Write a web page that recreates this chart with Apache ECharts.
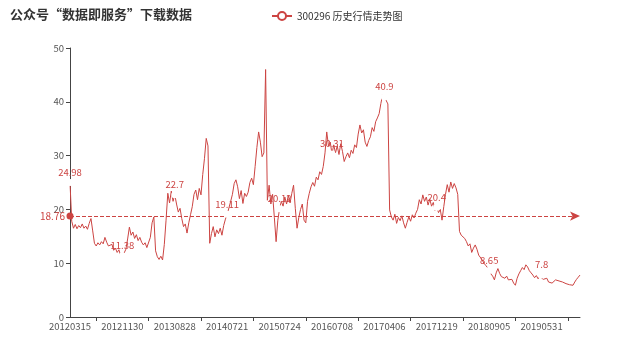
<!DOCTYPE html>
<html>
<head>
<meta charset="utf-8">
<script src="https://cdn.jsdelivr.net/npm/echarts@6/dist/echarts.min.js"></script>
<style>html,body{margin:0;padding:0;background:#fff;}#main{width:640px;height:363px;}</style>
</head>
<body>
<div id="main"></div>
<script>
// Labelled dates on the x axis (every labelStep-th category)
const tickLabels = ['20120315','20121130','20130828','20140721','20150724','20160708','20170406','20171219','20180905','20190531'];
const labelStep = 30;
const seriesName = '300296 历史行情走势图';
const titleText = '公众号“数据即服务”下载数据';
const avgValue = 18.76;
// Closing prices
const prices = [
24.98,17.8,16.5,17.2,16.4,17.0,16.6,17.3,16.5,16.9,
16.3,17.4,18.3,16.0,13.7,13.2,13.8,13.4,14.0,13.6,
14.8,13.9,13.2,12.9,13.5,12.4,12.8,12.0,12.5,11.4,
11.38,11.9,12.6,14.5,16.7,15.2,15.8,14.6,15.3,14.2,
14.8,13.9,13.4,13.8,12.9,12.7,14.8,17.5,18.6,12.3,
11.2,10.7,11.3,10.6,13.5,18.0,23.0,21.2,23.4,21.5,
22.7,21.0,19.5,20.2,18.3,16.8,17.3,15.6,17.5,19.0,
20.5,22.8,23.6,21.8,23.9,22.7,26.5,29.5,33.2,31.8,
13.7,15.5,16.8,14.9,16.2,15.5,16.5,15.2,17.0,18.2,
19.11,20.3,21.5,22.8,24.8,25.5,24.2,22.0,23.5,21.1,
23.0,22.4,23.2,25.0,25.8,24.6,28.0,31.5,34.4,32.5,
29.8,30.5,46.0,21.7,24.5,21.0,22.8,18.5,14.0,18.0,
20.12,21.5,20.6,22.3,21.0,22.6,21.2,23.0,24.5,20.2,
16.5,18.5,20.0,21.0,18.0,17.5,21.5,23.0,24.2,25.0,
24.3,26.0,25.5,27.0,26.5,28.0,30.5,34.4,31.8,32.5,
30.31,32.0,30.5,31.8,30.2,32.2,30.8,28.9,29.8,30.5,
29.6,31.0,30.4,32.0,31.5,34.0,35.7,34.2,34.8,32.5,
31.7,32.8,33.5,35.2,34.5,36.3,37.0,37.8,39.7,41.3,
40.9,41.0,39.6,19.9,18.6,18.0,19.1,17.4,18.5,17.9,
18.8,17.5,16.5,17.6,18.6,17.8,19.0,18.4,19.3,20.0,
21.8,21.0,22.7,21.5,22.3,20.8,21.9,20.6,21.3,19.8,
20.4,19.4,20.0,18.0,20.5,22.8,24.6,23.2,25.1,23.9,
24.8,24.0,22.8,15.9,15.2,15.4,14.6,14.0,13.2,13.6,
12.0,12.8,13.4,12.6,11.5,11.2,10.6,10.0,9.6,9.2,
8.65,8.0,7.6,6.9,8.2,9.0,8.1,7.5,7.8,7.2,
7.6,6.9,6.6,7.0,6.3,5.9,7.2,8.0,8.6,9.2,
8.8,9.7,9.3,8.6,8.2,7.8,7.3,7.7,7.1,7.5,
7.8,7.0,6.8,7.2,6.5,6.7,6.3,6.6,6.9,7.0,
6.7,6.9,6.5,6.6,6.2,6.4,6.0,6.1,5.9,6.5,
7.0,7.4,7.8
];

// Build category dates: labelled dates at every labelStep-th slot, intermediate slots spread in calendar time
function parseD(s){return Date.UTC(+s.slice(0,4), +s.slice(4,6)-1, +s.slice(6,8));}
function fmtD(t){const d=new Date(t);const p=n=>String(n).padStart(2,'0');return d.getUTCFullYear()+p(d.getUTCMonth()+1)+p(d.getUTCDate());}
const categories = [];
for (let i = 0; i < prices.length; i++) {
  const seg = Math.floor(i / labelStep), off = i % labelStep;
  if (off === 0 && seg < tickLabels.length) { categories.push(tickLabels[seg]); continue; }
  const a = Math.min(seg, tickLabels.length - 2);
  const t0 = parseD(tickLabels[a]), t1 = parseD(tickLabels[a + 1]);
  const frac = (i - a * labelStep) / labelStep;
  const s = fmtD(t0 + (t1 - t0) * frac);
  categories.push(categories.includes(s) ? s + '_' + i : s);
}

const RED = '#cc4442';
const AXIS = '#444';
const FONT = '"Noto Sans CJK SC", "Noto Sans", sans-serif';

const markPts = tickLabels.map((d, k) => ({ coord: [categories[k * labelStep], prices[k * labelStep]], value: prices[k * labelStep] }));

const chart = echarts.init(document.getElementById('main'), null, { renderer: 'canvas' });
chart.setOption({
  animation: false,
  textStyle: { fontFamily: FONT },
  title: {
    text: titleText, left: 5, top: 3,
    textStyle: { fontSize: 13, fontWeight: 'bold', color: '#333', fontFamily: FONT }
  },
  legend: {
    left: 266, top: 6, itemWidth: 20, itemHeight: 10, itemGap: 8,
    textStyle: { fontSize: 10, color: '#333', fontFamily: FONT },
    data: [seriesName]
  },
  grid: { left: 70, right: 60, top: 48, bottom: 46 },
  xAxis: {
    type: 'category', data: categories, boundaryGap: false,
    axisLine: { lineStyle: { color: AXIS } },
    axisTick: { interval: (i) => i % labelStep === labelStep / 2, length: 4, lineStyle: { color: AXIS } },
    axisLabel: { interval: (i) => i % labelStep === 0 && i / labelStep < tickLabels.length, fontSize: 9.5, color: '#555', margin: 5, fontFamily: FONT }
  },
  yAxis: {
    type: 'value', min: 0, max: 50, interval: 10,
    splitLine: { show: false },
    axisLine: { show: true, lineStyle: { color: AXIS } },
    axisTick: { show: true, length: 4, lineStyle: { color: AXIS } },
    axisLabel: { fontSize: 9.5, color: '#555', margin: 6, fontFamily: FONT }
  },
  series: [{
    name: seriesName, type: 'line', data: prices,
    symbol: 'emptyCircle', symbolSize: 7, showSymbol: false,
    itemStyle: { color: RED },
    lineStyle: { color: RED, width: 1 },
    markPoint: {
      symbol: 'emptyCircle', symbolSize: 5,
      itemStyle: { color: '#fff', borderColor: RED, borderWidth: 1 },
      label: { show: true, position: 'top', distance: 2, color: RED, fontSize: 9.5, fontFamily: FONT, formatter: (p) => p.value },
      data: markPts
    },
    markLine: {
      silent: true,
      symbol: ['circle', 'arrow'], symbolSize: [7, 10],
      lineStyle: { color: RED, type: 'dashed', width: 1 },
      label: { show: true, position: 'start', color: RED, fontSize: 10, fontFamily: FONT, formatter: String(avgValue) },
      data: [{ yAxis: avgValue }]
    }
  }]
});
</script>
</body>
</html>
